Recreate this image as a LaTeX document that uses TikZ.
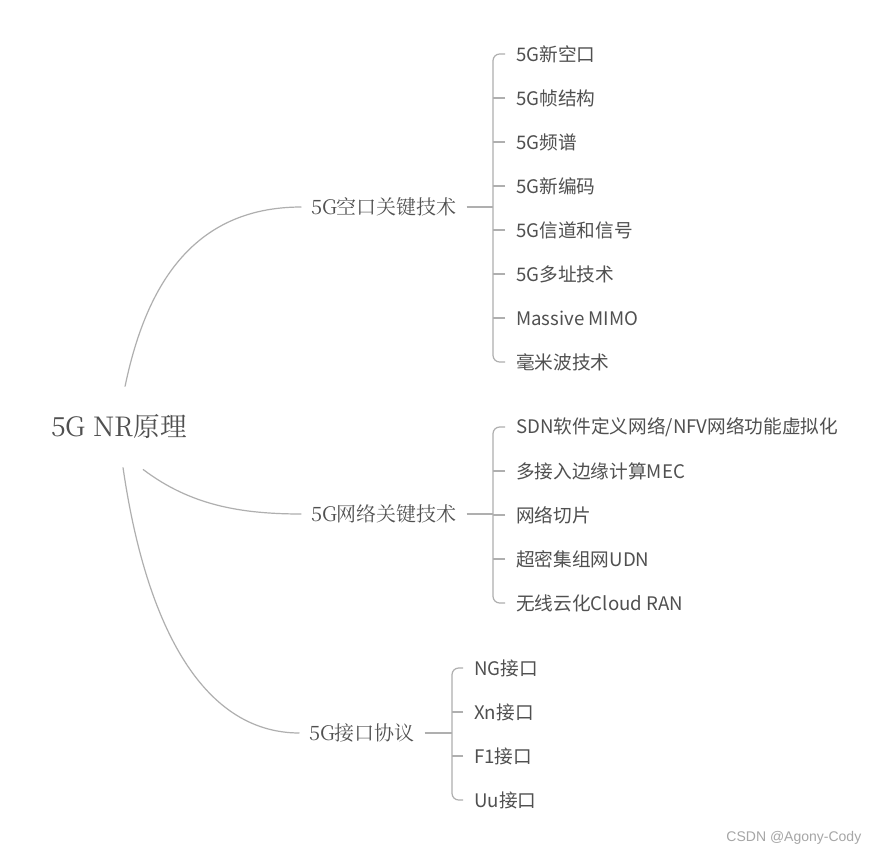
\documentclass[tikz,border=0pt]{standalone}
\usepackage{fontspec}
\usepackage{xcolor}
\usetikzlibrary{calc}
\newfontfamily\cjksans{Noto Sans CJK SC}
\newfontfamily\cjkserif{Noto Serif CJK SC}
\newfontfamily\wmfont{Liberation Sans}
\definecolor{txtgray}{RGB}{80,80,80}
\definecolor{linegray}{RGB}{175,175,175}

\begin{document}
\begin{tikzpicture}[x=0.75pt, y=-0.75pt,
    root/.style={font=\cjkserif\fontsize{20}{24}\selectfont, text=txtgray, inner sep=0pt},
    topic/.style={font=\cjkserif\fontsize{15}{18}\selectfont, text=txtgray, inner sep=7pt},
    leaf/.style={anchor=west, font=\cjksans\fontsize{14}{16}\selectfont, text=txtgray, inner sep=0pt},
    link/.style={draw=linegray, line width=0.9pt}]
    \fill[white] (0,0) rectangle (882,856);
    \useasboundingbox (0,0) rectangle (882,856);
    \node[root] (r) at (119,427) {5G\hspace{0.3em}NR原理};
    \node[topic] (t1) at (384,207) {5G空口关键技术};
    \node[topic] (t2) at (384,514) {5G网络关键技术};
    \node[topic] (t3) at (362,733) {5G接口协议};
    \coordinate (s1) at (493,207);
    \coordinate (s2) at (493,514);
    \coordinate (s3) at (452,733);
    \foreach \txt [count=\i] in {5G新空口,5G帧结构,5G频谱,5G新编码,5G信道和信号,5G多址技术,Massive MIMO,毫米波技术}
        \node[leaf] (a\i) at (516,{10+44*\i}) {\txt};
    \foreach \txt [count=\i] in {SDN软件定义网络/NFV网络功能虚拟化,多接入边缘计算MEC,网络切片,超密集组网UDN,无线云化Cloud RAN}
        \node[leaf] (b\i) at (516,{383+44*\i}) {\txt};
    \foreach \txt [count=\i] in {NG接口,Xn接口,F1接口,Uu接口}
        \node[leaf] (c\i) at (474,{624+44*\i}) {\txt};
    \node[font=\wmfont\fontsize{10.5}{12}\selectfont, text=gray!70, anchor=east] (wm) at (866,838) {CSDN @Agony-Cody};
    \draw[link] ($(r.north)+(6,-28)$) .. controls (145,290) and (190,207) .. (t1.west);
    \draw[link] ($(r.south)+(24,30)$) .. controls (190,505) and (240,514) .. (t2.west);
    \draw[link] ($(r.south)+(4,28)$) .. controls (145,620) and (200,733) .. (t3.west);
    \draw[link] (t1.east) -- (s1);
    \draw[link] (t2.east) -- (s2);
    \draw[link] (t3.east) -- (s3);
    \draw[link, rounded corners=5] ($(a1.west)+(-11,0)$) -| (s1) |- ($(a8.west)+(-11,0)$);
    \foreach \i in {2,...,7}
        \draw[link] ($(a\i.west)+(-11,0)$) -- (a\i.west -| s1);
    \draw[link, rounded corners=5] ($(b1.west)+(-11,0)$) -| (s2) |- ($(b5.west)+(-11,0)$);
    \foreach \i in {2,...,4}
        \draw[link] ($(b\i.west)+(-11,0)$) -- (b\i.west -| s2);
    \draw[link, rounded corners=5] ($(c1.west)+(-11,0)$) -| (s3) |- ($(c4.west)+(-11,0)$);
    \foreach \i in {2,3}
        \draw[link] ($(c\i.west)+(-11,0)$) -- (c\i.west -| s3);
\end{tikzpicture}
\end{document}
